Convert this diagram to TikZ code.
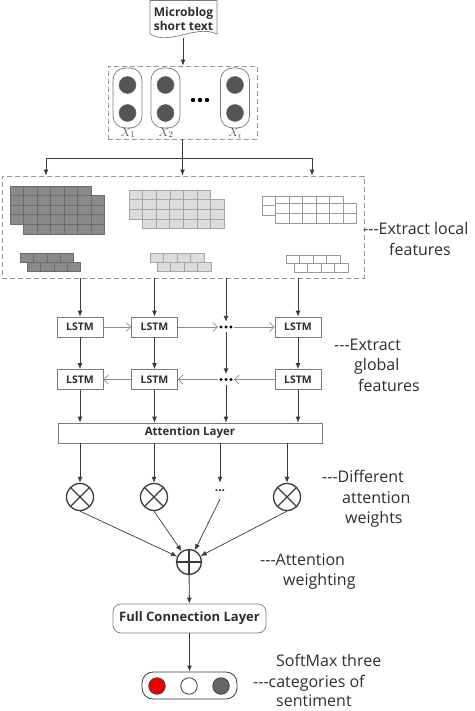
\documentclass[tikz,border=0pt]{standalone}
\usepackage{fontspec}
\newfontfamily\osans{Open Sans}
\usetikzlibrary{arrows.meta,calc}
\definecolor{linec}{HTML}{3A3A3A}
\definecolor{harrc}{HTML}{8C8C8C}
\definecolor{dashc}{HTML}{959595}
\definecolor{boxc}{HTML}{7A7A7A}
\definecolor{labc}{HTML}{2E2E2E}
\definecolor{darkf}{HTML}{8A8A8A}
\definecolor{darkl}{HTML}{6C6C6C}
\definecolor{lightf}{HTML}{DCDCDC}
\definecolor{lightl}{HTML}{A5A5A5}
\definecolor{whitel}{HTML}{9A9A9A}
\definecolor{dotf}{HTML}{555555}
\definecolor{redf}{HTML}{EE0000}
\definecolor{grayf}{HTML}{666666}
\newcommand\fmap[7]{%
  \filldraw[#7] (#1,#2) rectangle ++({#3*#5},{#4*#6});
  \pgfmathtruncatemacro\fmc{#3-1}%
  \pgfmathtruncatemacro\fmr{#4-1}%
  \foreach \i in {1,...,\fmc} {\draw[#7] ({#1+\i*#5},#2) -- ++(0,{#4*#6});}
  \ifnum\fmr>0 \foreach \j in {1,...,\fmr} {\draw[#7] (#1,{#2+\j*#6}) -- ++({#3*#5},0);}\fi
}
\begin{document}
\begin{tikzpicture}[x=1pt,y=-1pt,
  arr/.style={draw=linec, line width=0.9, -{Latex[length=6,width=5]}},
  plainline/.style={draw=linec, line width=0.9},
  harr/.style={draw=harrc, line width=0.7, -{Straight Barb[length=4.5,width=9]}},
  dashbox/.style={draw=dashc, dash pattern=on 5pt off 3pt, line width=0.8, inner sep=0},
  capsule/.style={draw=boxc, fill=white, rounded corners=12, minimum width=29, minimum height=60, inner sep=0, line width=0.7},
  incirc/.style={circle, fill=dotf, draw=darkl, line width=0.5, minimum size=17, inner sep=0},
  xlab/.style={text=dotf, inner sep=0, font=\fontsize{13}{13}\selectfont},
  lstm/.style={draw=boxc, fill=white, line width=0.7, minimum width=46, minimum height=20, inner sep=0, font=\osans\bfseries\fontsize{10.5}{12}\selectfont, text=labc},
  lbox/.style={draw=boxc, fill=white, line width=0.7, inner sep=0, font=\osans\bfseries\fontsize{11.5}{13}\selectfont, text=labc},
  dotsn/.style={inner sep=0, minimum width=16, minimum height=10},
  darkm/.style={fill=darkf, draw=darkl, line width=0.6},
  lightm/.style={fill=lightf, draw=lightl, line width=0.6},
  whitem/.style={fill=white, draw=whitel, line width=0.6},
  otimes/.style={circle, draw=linec, line width=1.3, minimum size=27, inner sep=0,
    path picture={\draw[line width=1.3, linec] (path picture bounding box.north west) -- (path picture bounding box.south east) (path picture bounding box.north east) -- (path picture bounding box.south west);}},
  oplus/.style={circle, draw=linec, line width=1.3, minimum size=25, inner sep=0,
    path picture={\draw[line width=1.3, linec] (path picture bounding box.north) -- (path picture bounding box.south) (path picture bounding box.west) -- (path picture bounding box.east);}},
  smc/.style={circle, draw=linec, line width=0.8, minimum size=16.5, inner sep=0},
  lab/.style={anchor=base west, inner sep=0, font=\osans\fontsize{16}{19}\selectfont, text=labc}
]
\useasboundingbox (0,0) rectangle (474,711);

% Microblog document
\draw[boxc, fill=white, line width=0.7] (150,0.5) -- (150,34) .. controls (170,46) and (196,24) .. (217,34) -- (217,0.5) -- cycle;
\node[align=center, inner sep=0, font=\osans\bfseries\fontsize{12}{14}\selectfont, text=labc] (mb) at (183.5,19) {Microblog\\short text};
\coordinate (mbb) at (183,38);

% input box
\node[dashbox, minimum width=149, minimum height=73] (inp) at (182.5,102.5) {};
\draw[arr] (mbb) -- (mbb |- inp.north);
\node[capsule] (c1) at (127.5,98) {};
\node[capsule] (c2) at (165.5,98) {};
\node[capsule] (c3) at (235,98) {};
\node[incirc] (d11) at (127.5,85) {};
\node[incirc] (d12) at (127.5,113) {};
\node[incirc] (d21) at (165.5,85) {};
\node[incirc] (d22) at (165.5,113) {};
\node[incirc] (d31) at (235,85) {};
\node[incirc] (d32) at (235,113) {};
\fill[black] (193,100) circle (2.2) (200,100) circle (2.2) (207,100) circle (2.2);
\node[xlab] (x1) at (128,133) {$X_1$};
\node[xlab] (x2) at (166,133) {$X_2$};
\node[xlab] (x3) at (235,133) {$X_i$};

% feature box
\node[dashbox, minimum width=362, minimum height=102] (feat) at (183,227) {};
\coordinate (h1) at (46,158);
\coordinate (h3) at (312,158);
\draw[plainline] (h1) -- (h3);
\draw[arr] (inp.south) -- (inp.south |- feat.north);
\draw[arr] (h1) -- (h1 |- feat.north);
\draw[arr] (h3) -- (h3 |- feat.north);

% feature maps
\fmap{10}{186}{6}{4}{13.5}{9.6}{darkm}
\fmap{23.5}{195.6}{6}{4}{13.5}{9.6}{darkm}
\fmap{129}{190}{6}{3}{13.6}{9.7}{lightm}
\fmap{142.5}{199.5}{6}{3}{13.6}{9.7}{lightm}
\fmap{262}{196}{6}{2}{13.5}{9.5}{whitem}
\fmap{275.5}{203.5}{6}{2}{13.5}{9.7}{whitem}
\fmap{20}{253}{4}{1}{13.4}{9}{darkm}
\fmap{27}{262}{4}{1}{13.4}{9}{darkm}
\fmap{150}{253}{4}{1}{13.5}{9}{lightm}
\fmap{157}{262}{4}{1}{13.5}{9}{lightm}
\fmap{286}{255}{4}{1}{13.5}{8.5}{whitem}
\fmap{294}{263.5}{4}{1}{13.5}{8.5}{whitem}

% LSTM rows
\node[lstm] (l1) at (80,327) {LSTM};
\node[lstm] (l2) at (154.5,327) {LSTM};
\node[dotsn] (ld) at (226,327) {};
\node[lstm] (l4) at (298,327) {LSTM};
\node[lstm] (r1) at (80,379.5) {LSTM};
\node[lstm] (r2) at (154.5,379.5) {LSTM};
\node[dotsn] (rd) at (226,379.5) {};
\node[lstm] (r4) at (298,379.5) {LSTM};
\foreach \n in {ld,rd} {\fill[black] ($(\n.center)+(-5,0)$) circle (1.6) (\n.center) circle (1.6) ($(\n.center)+(5,0)$) circle (1.6);}

\foreach \n in {l1,l2,ld,l4} {\draw[arr] (\n |- feat.south) -- (\n);}
\draw[arr] (l1) -- (r1);
\draw[arr] (l2) -- (r2);
\draw[arr] (ld) -- (rd);
\draw[arr] (l4) -- (r4);
\draw[harr] (l1) -- (l2);
\draw[harr] (l2) -- (ld);
\draw[harr] (ld) -- (l4);
\draw[harr] (r4) -- (rd);
\draw[harr] (rd) -- (r2);
\draw[harr] (r2) -- (r1);

% attention layer
\node[lbox, minimum width=264, minimum height=20] (att) at (190,433) {Attention Layer};
\foreach \n in {r1,r2,rd,r4} {\draw[arr] (\n) -- (\n |- att.north);}

% weights
\node[otimes] (m1) at (80,497) {};
\node[otimes] (m2) at (154,497) {};
\node[inner sep=0, minimum width=12, minimum height=16, font=\osans\bfseries\fontsize{12}{12}\selectfont, text=labc] (md) at (220,491) {...};
\node[otimes] (m4) at (287,497) {};
\draw[arr] (m1 |- att.south) -- (m1);
\draw[arr] (m2 |- att.south) -- (m2);
\draw[arr] (md |- att.south) -- (md);
\draw[arr] (m4 |- att.south) -- (m4);

\node[oplus] (pl) at (189,562) {};
\draw[arr, line width=0.7] (m1.south) -- (pl);
\draw[arr, line width=0.7] (m2.south) -- (pl);
\draw[arr, line width=0.7] (md.south) -- (pl);
\draw[arr, line width=0.7] (m4.south) -- (pl);

% full connection
\node[lbox, rounded corners=8, minimum width=153, minimum height=29, font=\osans\bfseries\fontsize{13}{15}\selectfont] (fc) at (189.5,618.5) {Full Connection Layer};
\draw[arr] (pl) -- (fc);

% softmax
\node[draw=linec, line width=0.8, rounded corners=11, minimum width=95, minimum height=27, inner sep=0] (sm) at (189.5,685.5) {};
\draw[arr] (fc) -- (sm);
\node[smc, fill=redf] (s1) at (157,686) {};
\node[smc, fill=white] (s2) at (189,686) {};
\node[smc, fill=grayf] (s3) at (221,686) {};

% labels
\node[lab] (t1a) at (363,234) {---Extract local};
\node[lab] (t1b) at (389,255) {features};
\node[lab] (t2a) at (334,350) {---Extract};
\node[lab] (t2b) at (354,370) {global};
\node[lab] (t2c) at (358,391) {features};
\node[lab] (t3a) at (322,482) {---Different};
\node[lab] (t3b) at (342,503) {attention};
\node[lab] (t3c) at (345,523) {weights};
\node[lab] (t4a) at (260,565) {---Attention};
\node[lab] (t4b) at (283,585) {weighting};
\node[lab] (t5a) at (276,666) {SoftMax three};
\node[lab] (t5b) at (253,687) {---categories of};
\node[lab] (t5c) at (276,706) {sentiment};
\end{tikzpicture}
\end{document}
